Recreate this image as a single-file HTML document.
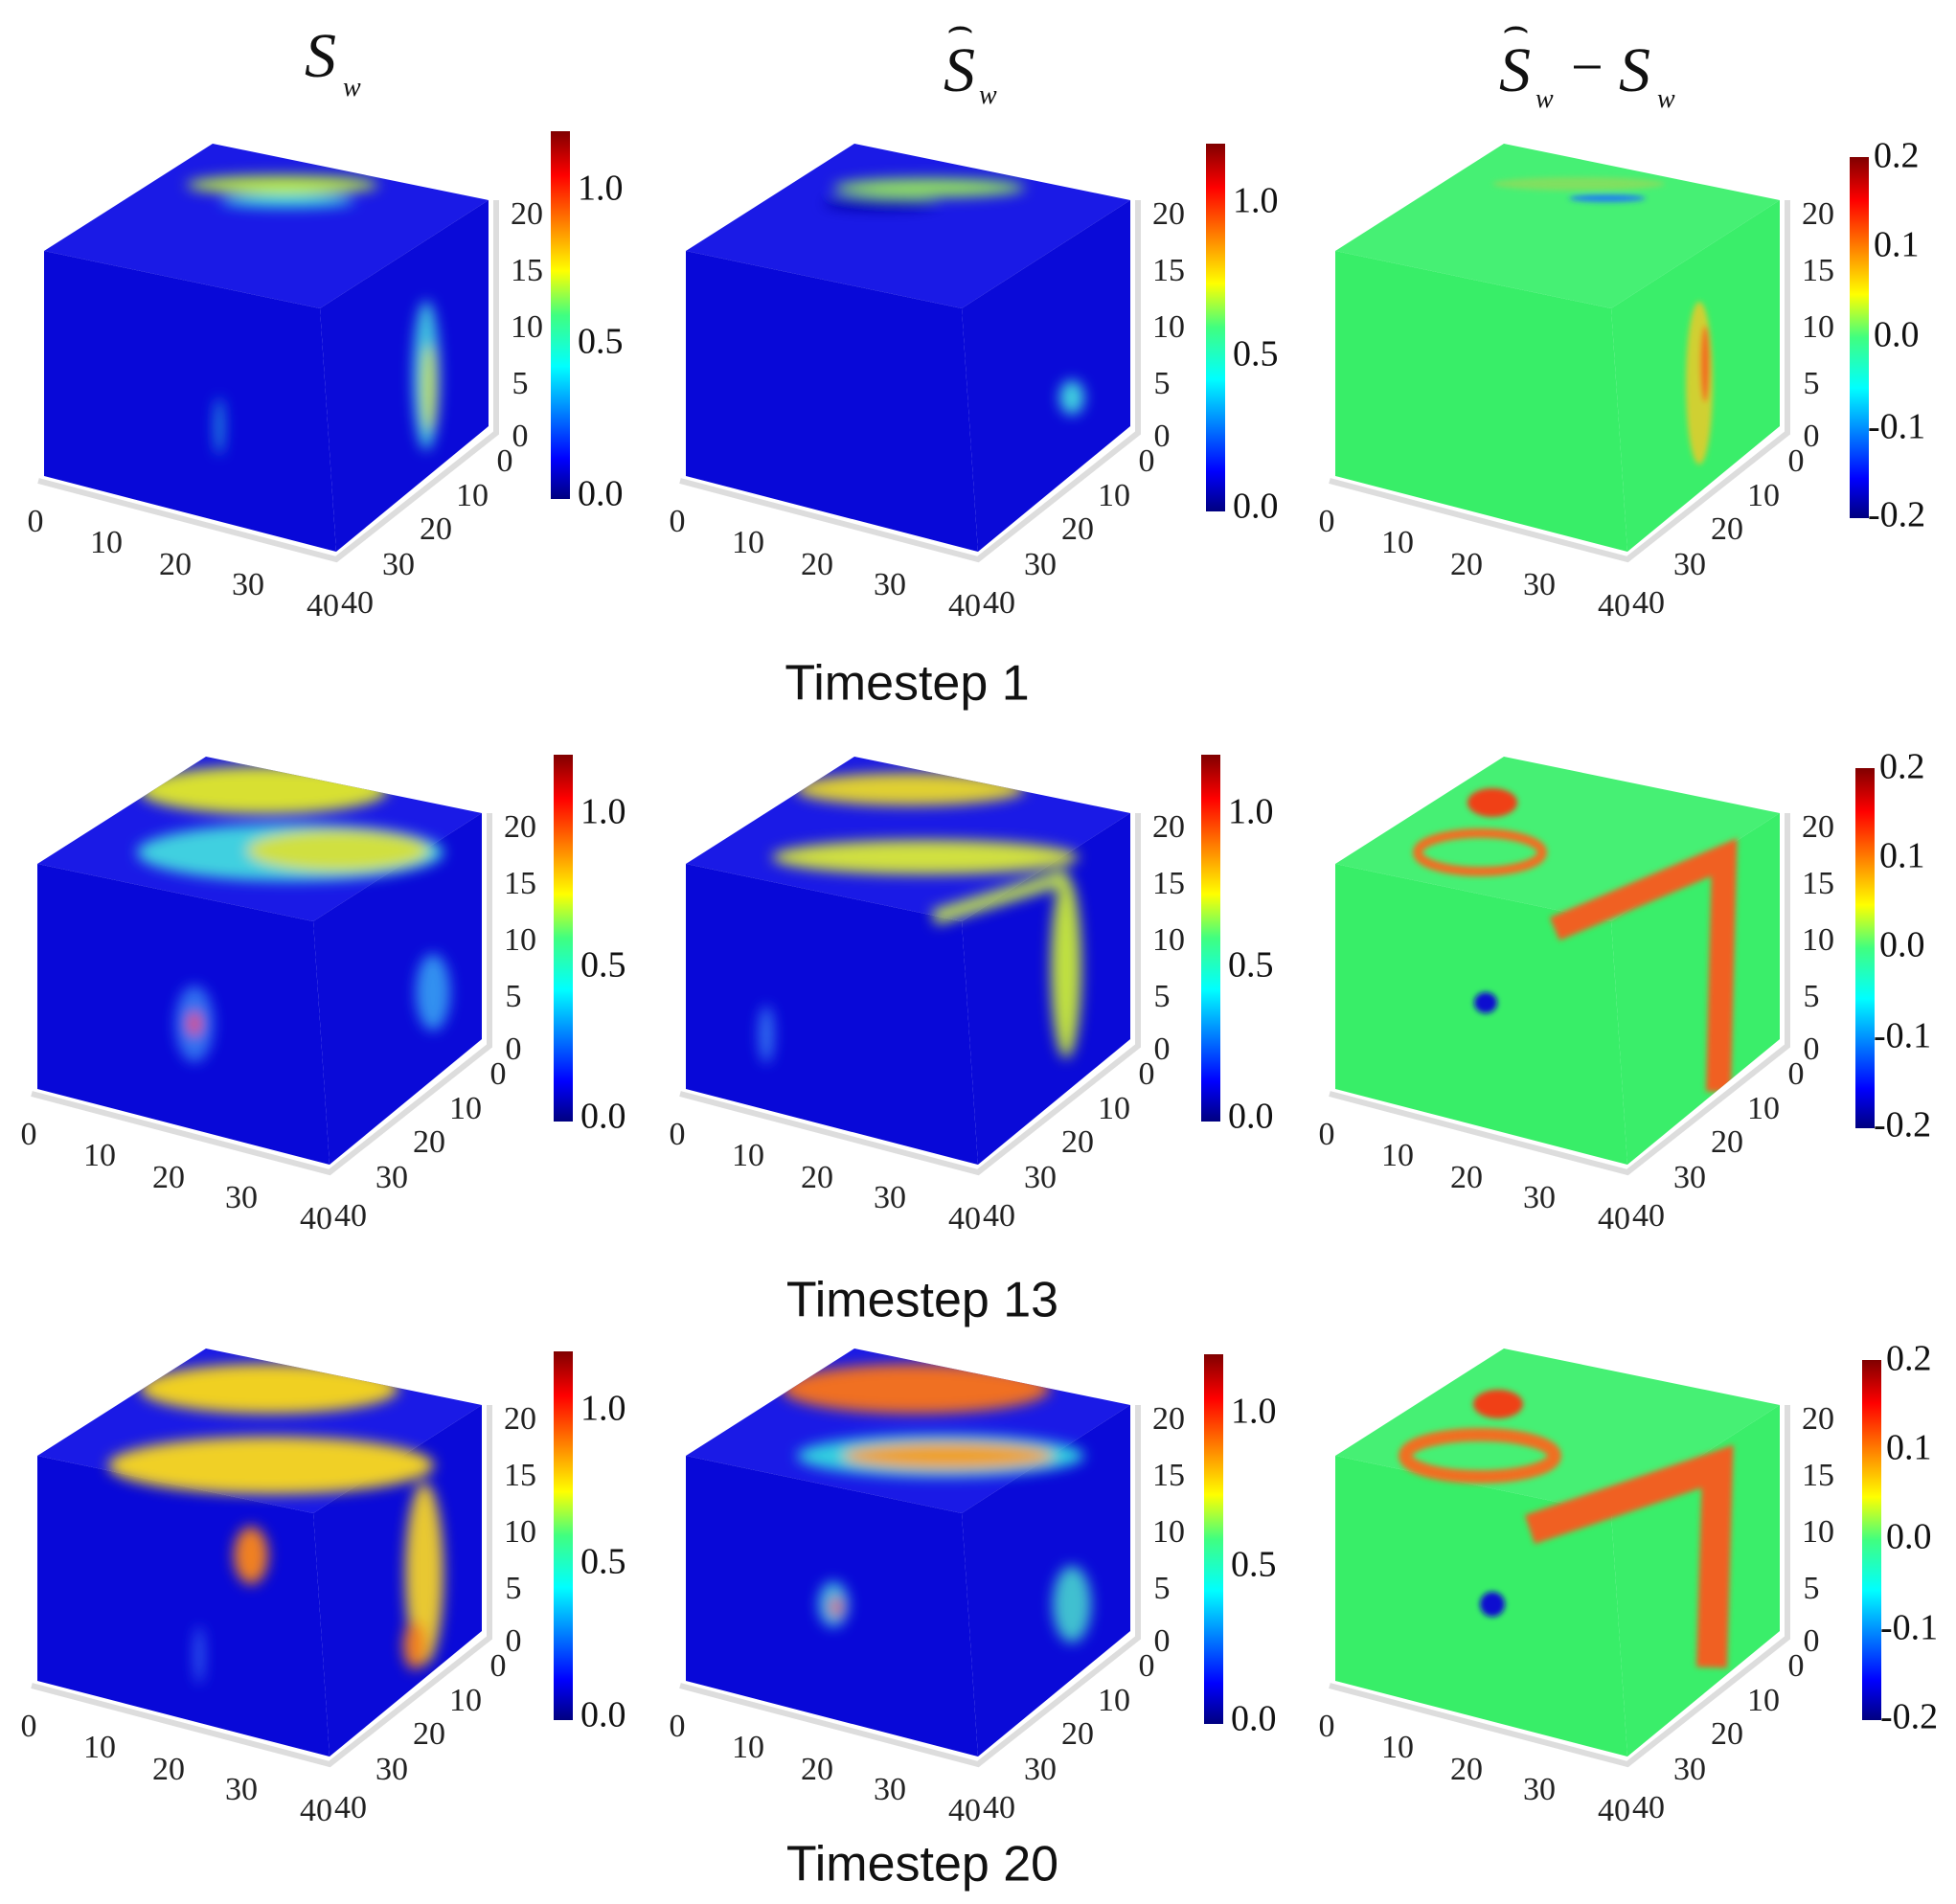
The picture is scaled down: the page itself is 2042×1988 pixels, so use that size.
<!DOCTYPE html>
<html><head><meta charset="utf-8"><style>
html,body{margin:0;padding:0;background:#fff;}
svg{display:block;}
.t{font-family:"Liberation Serif",serif;font-size:34px;fill:#222;text-anchor:middle;dominant-baseline:middle;}
.c{font-family:"Liberation Serif",serif;font-size:38px;fill:#111;dominant-baseline:middle;}
.ts{font-family:"Liberation Sans",sans-serif;font-size:52px;fill:#111;text-anchor:middle;dominant-baseline:middle;}
.ti{font-family:"Liberation Serif",serif;font-style:italic;font-size:66px;fill:#111;}
.sub{font-family:"Liberation Serif",serif;font-style:italic;font-size:28px;fill:#111;}
</style></head><body>
<svg width="2042" height="1988" viewBox="0 0 2042 1988" xmlns="http://www.w3.org/2000/svg">
<defs>
<linearGradient id="jet" x1="0" y1="1" x2="0" y2="0">
<stop offset="0" stop-color="#00007f"/><stop offset="0.11" stop-color="#0000ff"/>
<stop offset="0.36" stop-color="#00ffff"/><stop offset="0.5" stop-color="#40ff80"/>
<stop offset="0.62" stop-color="#ffff00"/><stop offset="0.88" stop-color="#ff0000"/>
<stop offset="1" stop-color="#800000"/></linearGradient>
<clipPath id="cc"><polygon points="222,150 510,209 510,445 351,576 46,497 46,262"/></clipPath>
<filter id="b" x="-50%" y="-50%" width="200%" height="200%"><feGaussianBlur stdDeviation="7"/></filter>
<filter id="b2" x="-50%" y="-50%" width="200%" height="200%"><feGaussianBlur stdDeviation="3"/></filter>
<g id="axes">
<polyline points="40,502 351,584 518,452 518,209" fill="none" stroke="#ddd" stroke-width="6"/>
<text class="t" x="550" y="226">20</text><text class="t" x="550" y="285">15</text>
<text class="t" x="550" y="344">10</text><text class="t" x="543" y="403">5</text>
<text class="t" x="543" y="458">0</text>
<text class="t" x="527" y="484">0</text><text class="t" x="493" y="520">10</text>
<text class="t" x="455" y="555">20</text><text class="t" x="416" y="592">30</text>
<text class="t" x="373" y="632">40</text>
<text class="t" x="37" y="547">0</text><text class="t" x="111" y="569">10</text>
<text class="t" x="183" y="592">20</text><text class="t" x="259" y="613">30</text>
<text class="t" x="337" y="635">40</text>
</g>
<g id="blue">
<polygon points="222,150 510,209 334,322 46,262" fill="#1a1ae6"/>
<polygon points="46,262 334,322 351,576 46,497" fill="#0808d8"/>
<polygon points="334,322 510,209 510,445 351,576" fill="#0a0ad8"/>
</g>
<g id="green">
<polygon points="222,150 510,209 334,322 46,262" fill="#46f074"/>
<polygon points="46,262 334,322 351,576 46,497" fill="#38ee68"/>
<polygon points="334,322 510,209 510,445 351,576" fill="#3aee6a"/>
</g>
</defs>

<!-- titles -->
<text class="ti" x="318" y="80">S</text><text class="sub" x="358" y="100">w</text>
<text class="ti" x="985" y="95">S</text><text class="sub" x="1022" y="108">w</text>
<text x="988" y="42" style="font-family:'Liberation Serif',serif;font-size:44px;fill:#111">&#x2322;</text>
<text class="ti" x="1565" y="95">S</text><text class="sub" x="1603" y="112">w</text>
<text x="1568" y="42" style="font-family:'Liberation Serif',serif;font-size:44px;fill:#111">&#x2322;</text>
<text x="1640" y="90" style="font-family:'Liberation Serif',serif;font-size:60px;fill:#111">&#x2212;</text>
<text class="ti" x="1690" y="95">S</text><text class="sub" x="1730" y="112">w</text>

<text class="ts" x="947" y="717">Timestep 1</text>
<text class="ts" x="963" y="1361">Timestep 13</text>
<text class="ts" x="963" y="1950">Timestep 20</text>

<!-- Row 1 -->
<g transform="translate(0,0)"><use href="#blue"/><use href="#axes"/>
<g clip-path="url(#cc)"><g filter="url(#b)"><ellipse cx="295" cy="193" rx="100" ry="10" fill="#b8e840"/><ellipse cx="300" cy="210" rx="70" ry="7" fill="#30d0e0"/>
<ellipse cx="445" cy="392" rx="14" ry="78" fill="#40c0e0"/><ellipse cx="448" cy="405" rx="7" ry="45" fill="#c0e040"/>
<ellipse cx="229" cy="445" rx="5" ry="30" fill="#2090e0"/></g></g></g>
<g transform="translate(670,0)"><use href="#blue"/><use href="#axes"/>
<g clip-path="url(#cc)"><g filter="url(#b)"><ellipse cx="300" cy="196" rx="100" ry="10" fill="#90e060"/><ellipse cx="250" cy="212" rx="60" ry="7" fill="#0000a0"/>
<ellipse cx="449" cy="415" rx="13" ry="18" fill="#40d0e0"/></g></g></g>
<g transform="translate(1348,0)"><use href="#green"/><use href="#axes"/>
<g clip-path="url(#cc)"><g filter="url(#b2)"><ellipse cx="300" cy="192" rx="90" ry="7" fill="#80e060"/><ellipse cx="330" cy="207" rx="40" ry="4" fill="#2080f0"/>
<ellipse cx="426" cy="400" rx="14" ry="85" fill="#d0d030"/><ellipse cx="432" cy="380" rx="5" ry="40" fill="#f07020"/></g></g></g>

<!-- Row 2 -->
<g transform="translate(-7,640)"><use href="#blue"/><use href="#axes"/>
<g clip-path="url(#cc)"><g filter="url(#b)"><ellipse cx="282" cy="185" rx="130" ry="25" fill="#d8e030"/><ellipse cx="310" cy="250" rx="160" ry="30" fill="#40d0e0"/>
<ellipse cx="360" cy="248" rx="95" ry="22" fill="#d0e040"/><ellipse cx="210" cy="429" rx="20" ry="40" fill="#3070f0"/>
<ellipse cx="210" cy="429" rx="6" ry="12" fill="#f04020"/><ellipse cx="459" cy="396" rx="18" ry="40" fill="#3090f0"/></g></g></g>
<g transform="translate(670,640)"><use href="#blue"/><use href="#axes"/>
<g clip-path="url(#cc)"><g filter="url(#b)"><ellipse cx="280" cy="184" rx="120" ry="17" fill="#e0d030"/><ellipse cx="296" cy="255" rx="160" ry="18" fill="#d0e040"/>
<path d="M305,318 L445,275" stroke="#c0e050" stroke-width="16" fill="none"/><ellipse cx="443" cy="370" rx="16" ry="95" fill="#c0e040"/>
<ellipse cx="130" cy="440" rx="8" ry="30" fill="#3070f0"/></g></g></g>
<g transform="translate(1348,640)"><use href="#green"/><use href="#axes"/>
<g clip-path="url(#cc)"><g filter="url(#b2)"><ellipse cx="210" cy="198" rx="26" ry="15" fill="#f04018"/><ellipse cx="197" cy="250" rx="65" ry="20" fill="none" stroke="#f07020" stroke-width="10"/>
<path d="M275,330 L452,255 L446,500" fill="none" stroke="#f06020" stroke-width="26"/>
<ellipse cx="203" cy="407" rx="12" ry="11" fill="#1010d0"/></g></g></g>

<!-- Row 3 -->
<g transform="translate(-7,1258)"><use href="#blue"/><use href="#axes"/>
<g clip-path="url(#cc)"><g filter="url(#b)"><ellipse cx="288" cy="192" rx="135" ry="26" fill="#f0d020"/><ellipse cx="290" cy="272" rx="170" ry="30" fill="#f0d028"/>
<ellipse cx="450" cy="385" rx="20" ry="95" fill="#e8c830"/><ellipse cx="269" cy="366" rx="18" ry="30" fill="#f08020"/>
<ellipse cx="440" cy="460" rx="12" ry="25" fill="#f08020"/><ellipse cx="215" cy="470" rx="5" ry="30" fill="#3060f0"/></g></g></g>
<g transform="translate(670,1258)"><use href="#blue"/><use href="#axes"/>
<g clip-path="url(#cc)"><g filter="url(#b)"><ellipse cx="286" cy="192" rx="140" ry="26" fill="#f07020"/><ellipse cx="312" cy="262" rx="150" ry="22" fill="#30d0e0"/>
<ellipse cx="320" cy="262" rx="110" ry="14" fill="#f0a020"/><ellipse cx="449" cy="417" rx="20" ry="40" fill="#40c0d0"/>
<ellipse cx="200" cy="417" rx="16" ry="24" fill="#40b0e0"/><ellipse cx="203" cy="420" rx="5" ry="10" fill="#f03020"/></g></g></g>
<g transform="translate(1348,1258)"><use href="#green"/><use href="#axes"/>
<g clip-path="url(#cc)"><g filter="url(#b2)"><ellipse cx="216" cy="208" rx="26" ry="15" fill="#f04018"/><ellipse cx="197" cy="262" rx="78" ry="22" fill="none" stroke="#f07020" stroke-width="14"/>
<path d="M249,339 L445,273 L439,483" fill="none" stroke="#f06020" stroke-width="32"/>
<ellipse cx="210" cy="417" rx="13" ry="13" fill="#1010d0"/></g></g></g>

<!-- colorbars jet -->
<g>
<rect x="575" y="137" width="20" height="384" fill="url(#jet)"/>
<text class="c" x="603" y="200">1.0</text><text class="c" x="603" y="360">0.5</text><text class="c" x="603" y="519">0.0</text>
<rect x="1259" y="150" width="20" height="384" fill="url(#jet)"/>
<text class="c" x="1287" y="213">1.0</text><text class="c" x="1287" y="373">0.5</text><text class="c" x="1287" y="532">0.0</text>
<rect x="578" y="788" width="20" height="383" fill="url(#jet)"/>
<text class="c" x="606" y="851">1.0</text><text class="c" x="606" y="1011">0.5</text><text class="c" x="606" y="1169">0.0</text>
<rect x="1254" y="788" width="20" height="383" fill="url(#jet)"/>
<text class="c" x="1282" y="851">1.0</text><text class="c" x="1282" y="1011">0.5</text><text class="c" x="1282" y="1169">0.0</text>
<rect x="578" y="1411" width="20" height="385" fill="url(#jet)"/>
<text class="c" x="606" y="1474">1.0</text><text class="c" x="606" y="1634">0.5</text><text class="c" x="606" y="1794">0.0</text>
<rect x="1257" y="1414" width="20" height="386" fill="url(#jet)"/>
<text class="c" x="1285" y="1477">1.0</text><text class="c" x="1285" y="1637">0.5</text><text class="c" x="1285" y="1798">0.0</text>
</g>
<!-- colorbars diff -->
<g>
<rect x="1931" y="164" width="20" height="377" fill="url(#jet)"/>
<text class="c" x="1956" y="166">0.2</text><text class="c" x="1956" y="259">0.1</text><text class="c" x="1956" y="353">0.0</text><text class="c" x="1950" y="449">-0.1</text><text class="c" x="1950" y="541">-0.2</text>
<rect x="1937" y="802" width="20" height="376" fill="url(#jet)"/>
<text class="c" x="1962" y="804">0.2</text><text class="c" x="1962" y="897">0.1</text><text class="c" x="1962" y="990">0.0</text><text class="c" x="1956" y="1085">-0.1</text><text class="c" x="1956" y="1178">-0.2</text>
<rect x="1944" y="1420" width="20" height="376" fill="url(#jet)"/>
<text class="c" x="1969" y="1422">0.2</text><text class="c" x="1969" y="1515">0.1</text><text class="c" x="1969" y="1608">0.0</text><text class="c" x="1963" y="1703">-0.1</text><text class="c" x="1963" y="1796">-0.2</text>
</g>
</svg>
</body></html>
